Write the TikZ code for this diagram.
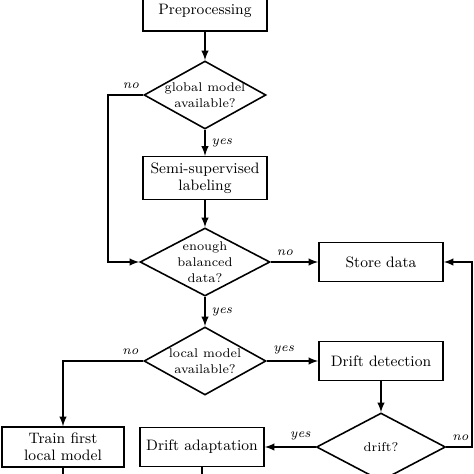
\documentclass[tikz,border=0pt]{standalone}
\usetikzlibrary{shapes.geometric}
\begin{document}
\begin{tikzpicture}[x=0.02cm, y=-0.02cm, >=latex, line width=0.9pt,
    box/.style={draw, rectangle, minimum width=2.48cm, minimum height=0.78cm, align=center, font=\fontsize{8.6}{9.8}\selectfont},
    dia/.style={draw, diamond, minimum width=2.44cm, minimum height=1.36cm, inner sep=0pt},
    dtext/.style={align=center, font=\fontsize{7.2}{9}\selectfont},
    lab/.style={font=\fontsize{7.3}{8}\selectfont\itshape}]
            \useasboundingbox (0,0) rectangle (474,474);

            \node[box, minimum height=0.8cm] (pre) at (205,11) {Preprocessing};
            \node[dia, label={[dtext]center:global model\\available?}] (global) at (205,95) {};
            \node[box] (semi) at (205,178) {Semi-supervised\\labeling};
            \node[dia, minimum width=2.6cm, label={[dtext]center:enough\\balanced\\data?}] (enough) at (205,262) {};
            \node[box] (store) at (381,262) {Store data};
            \node[dia, label={[dtext]center:local model\\available?}] (local) at (205,361) {};
            \node[box] (detect) at (381,361) {Drift detection};
            \node[dia, minimum width=2.58cm, label={[dtext]center:drift?}] (drift) at (381,447) {};
            \node[box] (adapt) at (202,447) {Drift adaptation};
            \node[box, minimum width=2.44cm] (train) at (63,447) {Train first\\local model};
            \coordinate (trainout) at (63,480);
            \coordinate (adaptout) at (202,480);

            \draw[->] (pre) -- (global);
            \draw[->] (global) -- node[lab, right] {yes} (semi);
            \draw[->] (global.west) -- node[lab, above, pos=0.35] {no} ++(-35,0) |- (enough.west);
            \draw[->] (semi) -- (enough);
            \draw[->] (enough) -- node[lab, above, pos=0.3] {no} (store);
            \draw[->] (enough) -- node[lab, right] {yes} (local);
            \draw[->] (local) -- node[lab, above, pos=0.33] {yes} (detect);
            \draw[->] (local.west) -| node[lab, above, pos=0.08] {no} (train.north);
            \draw[->] (detect) -- (drift);
            \draw[->] (drift) -- node[lab, above, pos=0.3] {yes} (adapt);
            \draw[->] (drift.east) -- node[lab, above, pos=0.55] {no} ++(26,0) |- (store.east);
            \draw (train.south) -- (trainout);
            \draw (adapt.south) -- (adaptout);
        \end{tikzpicture}
\end{document}
